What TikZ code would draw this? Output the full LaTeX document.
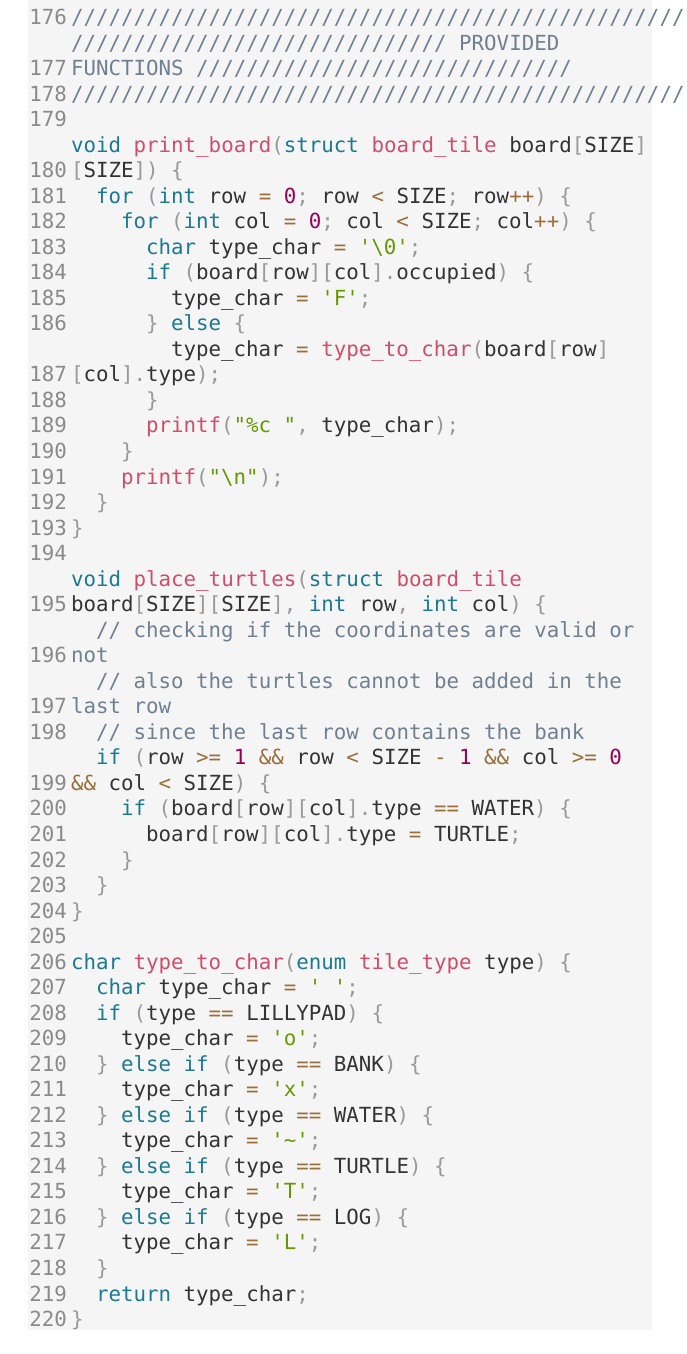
\documentclass[tikz,border=0pt]{standalone}
\usepackage{fontspec}
\setmonofont{DejaVu Sans Mono}
\definecolor{bgc}{HTML}{F5F5F5}
\definecolor{txt}{HTML}{333333}
\definecolor{lnc}{HTML}{8A8A8A}
\definecolor{kwc}{HTML}{1B7A92}
\definecolor{fnc}{HTML}{D14D6B}
\definecolor{numc}{HTML}{990055}
\definecolor{strc}{HTML}{669900}
\definecolor{opc}{HTML}{9A6E3A}
\definecolor{puc}{HTML}{999999}
\definecolor{cmc}{HTML}{708090}
\newcommand\cK[1]{\textcolor{kwc}{#1}}
\newcommand\cF[1]{\textcolor{fnc}{#1}}
\newcommand\cN[1]{\textcolor{numc}{#1}}
\newcommand\cS[1]{\textcolor{strc}{#1}}
\newcommand\cO[1]{\textcolor{opc}{#1}}
\newcommand\cP[1]{\textcolor{puc}{#1}}
\newcommand\cC[1]{\textcolor{cmc}{#1}}
\newcommand\sla{//////////}
\tikzset{
  base/.style={inner sep=0pt,outer sep=0pt,font=\ttfamily\fontsize{20.8}{25}\selectfont},
  ln/.style={base,anchor=base east,text=lnc},
  code/.style={base,anchor=base west,text=txt}
}
\newcommand\rowl[4]{%
  \node[ln] (n#1) at (67,{24.5+25.53*(#1-1)}) {#2};
  \node[code] (c#1) at ({71+25*#3},{24.5+25.53*(#1-1)}) {#4};}
\begin{document}
\begin{tikzpicture}[x=1pt,y=-1pt]
\clip (0,0) rectangle (686,1354);
\fill[white] (0,0) rectangle (686,1354);
\fill[bgc] (28,0) rectangle (652,1330);
\rowl{1}{176}{0}{\cC{\sla\sla\sla\sla/////////}}
\rowl{2}{}{0}{\cC{\sla\sla\sla{} PROVIDED}}
\rowl{3}{177}{0}{\cC{FUNCTIONS \sla\sla\sla}}
\rowl{4}{178}{0}{\cC{\sla\sla\sla\sla/////////}}
\rowl{5}{179}{0}{}
\rowl{6}{}{0}{\cK{void} \cF{print\_board}\cP{(}\cK{struct} \cF{board\_tile} board\cP{[}SIZE\cP{]}}
\rowl{7}{180}{0}{\cP{[}SIZE\cP{])} \cP{\{}}
\rowl{8}{181}{1}{\cK{for} \cP{(}\cK{int} row \cO{=} \cN{0}\cP{;} row \cO{<} SIZE\cP{;} row\cO{++}\cP{)} \cP{\{}}
\rowl{9}{182}{2}{\cK{for} \cP{(}\cK{int} col \cO{=} \cN{0}\cP{;} col \cO{<} SIZE\cP{;} col\cO{++}\cP{)} \cP{\{}}
\rowl{10}{183}{3}{\cK{char} type\_char \cO{=} \cS{'\textbackslash0'}\cP{;}}
\rowl{11}{184}{3}{\cK{if} \cP{(}board\cP{[}row\cP{][}col\cP{].}occupied\cP{)} \cP{\{}}
\rowl{12}{185}{4}{type\_char \cO{=} \cS{'F'}\cP{;}}
\rowl{13}{186}{3}{\cP{\}} \cK{else} \cP{\{}}
\rowl{14}{}{4}{type\_char \cO{=} \cF{type\_to\_char}\cP{(}board\cP{[}row\cP{]}}
\rowl{15}{187}{0}{\cP{[}col\cP{].}type\cP{);}}
\rowl{16}{188}{3}{\cP{\}}}
\rowl{17}{189}{3}{\cF{printf}\cP{(}\cS{"\%c "}\cP{,} type\_char\cP{);}}
\rowl{18}{190}{2}{\cP{\}}}
\rowl{19}{191}{2}{\cF{printf}\cP{(}\cS{"\textbackslash n"}\cP{);}}
\rowl{20}{192}{1}{\cP{\}}}
\rowl{21}{193}{0}{\cP{\}}}
\rowl{22}{194}{0}{}
\rowl{23}{}{0}{\cK{void} \cF{place\_turtles}\cP{(}\cK{struct} \cF{board\_tile}}
\rowl{24}{195}{0}{board\cP{[}SIZE\cP{][}SIZE\cP{],} \cK{int} row\cP{,} \cK{int} col\cP{)} \cP{\{}}
\rowl{25}{}{1}{\cC{// checking if the coordinates are valid or}}
\rowl{26}{196}{0}{\cC{not}}
\rowl{27}{}{1}{\cC{// also the turtles cannot be added in the}}
\rowl{28}{197}{0}{\cC{last row}}
\rowl{29}{198}{1}{\cC{// since the last row contains the bank}}
\rowl{30}{}{1}{\cK{if} \cP{(}row \cO{>=} \cN{1} \cO{\&\&} row \cO{<} SIZE \cO{-} \cN{1} \cO{\&\&} col \cO{>=} \cN{0}}
\rowl{31}{199}{0}{\cO{\&\&} col \cO{<} SIZE\cP{)} \cP{\{}}
\rowl{32}{200}{2}{\cK{if} \cP{(}board\cP{[}row\cP{][}col\cP{].}type \cO{==} WATER\cP{)} \cP{\{}}
\rowl{33}{201}{3}{board\cP{[}row\cP{][}col\cP{].}type \cO{=} TURTLE\cP{;}}
\rowl{34}{202}{2}{\cP{\}}}
\rowl{35}{203}{1}{\cP{\}}}
\rowl{36}{204}{0}{\cP{\}}}
\rowl{37}{205}{0}{}
\rowl{38}{206}{0}{\cK{char} \cF{type\_to\_char}\cP{(}\cK{enum} \cF{tile\_type} type\cP{)} \cP{\{}}
\rowl{39}{207}{1}{\cK{char} type\_char \cO{=} \cS{' '}\cP{;}}
\rowl{40}{208}{1}{\cK{if} \cP{(}type \cO{==} LILLYPAD\cP{)} \cP{\{}}
\rowl{41}{209}{2}{type\_char \cO{=} \cS{'o'}\cP{;}}
\rowl{42}{210}{1}{\cP{\}} \cK{else} \cK{if} \cP{(}type \cO{==} BANK\cP{)} \cP{\{}}
\rowl{43}{211}{2}{type\_char \cO{=} \cS{'x'}\cP{;}}
\rowl{44}{212}{1}{\cP{\}} \cK{else} \cK{if} \cP{(}type \cO{==} WATER\cP{)} \cP{\{}}
\rowl{45}{213}{2}{type\_char \cO{=} \cS{'\textasciitilde'}\cP{;}}
\rowl{46}{214}{1}{\cP{\}} \cK{else} \cK{if} \cP{(}type \cO{==} TURTLE\cP{)} \cP{\{}}
\rowl{47}{215}{2}{type\_char \cO{=} \cS{'T'}\cP{;}}
\rowl{48}{216}{1}{\cP{\}} \cK{else} \cK{if} \cP{(}type \cO{==} LOG\cP{)} \cP{\{}}
\rowl{49}{217}{2}{type\_char \cO{=} \cS{'L'}\cP{;}}
\rowl{50}{218}{1}{\cP{\}}}
\rowl{51}{219}{1}{\cK{return} type\_char\cP{;}}
\rowl{52}{220}{0}{\cP{\}}}
\end{tikzpicture}
\end{document}
